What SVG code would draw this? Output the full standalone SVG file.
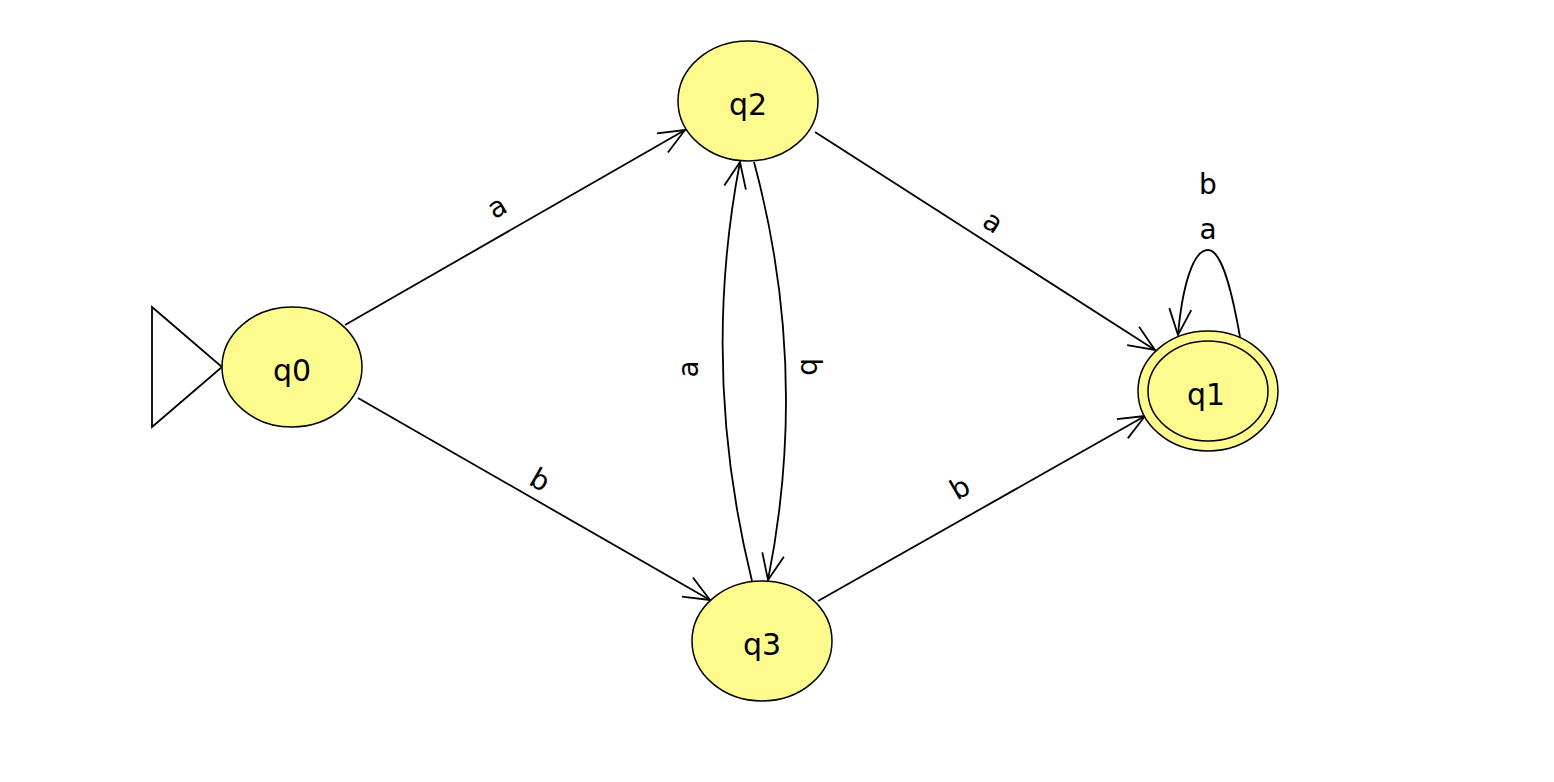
<svg xmlns="http://www.w3.org/2000/svg" width="1554" height="782" viewBox="0 0 1554 782">
<style>
.n{fill:#fdfb8e;stroke:#000;stroke-width:1.5}
.t{font-family:"DejaVu Sans",sans-serif;font-size:30px;text-anchor:middle;dominant-baseline:central}
.l{font-family:"DejaVu Sans",sans-serif;font-size:28px;text-anchor:middle;dominant-baseline:central}
.e{fill:none;stroke:#000;stroke-width:1.8}
</style>
<defs>
<marker id="ar" viewBox="0 0 30 30" refX="28" refY="15" markerWidth="30" markerHeight="30" markerUnits="userSpaceOnUse" orient="auto">
<path d="M2,4 L28,15 L2,26" fill="none" stroke="#000" stroke-width="1.8"/>
</marker>
</defs>
<rect width="1554" height="782" fill="#fff"/>
<g id="edges">
<path class="e" d="M345,325 L685,130" marker-end="url(#ar)"/>
<path class="e" d="M358,398 L710,600" marker-end="url(#ar)"/>
<path class="e" d="M815,132 L1155,350" marker-end="url(#ar)"/>
<path class="e" d="M818,601 L1145,416" marker-end="url(#ar)"/>
<path class="e" d="M754,162 Q810,370 768,580" marker-end="url(#ar)"/>
<path class="e" d="M752,581 Q700,370 740,162" marker-end="url(#ar)"/>
<path class="e" d="M1240,337 C1230,280 1220,250 1208,250 C1192,250 1182,290 1178,335" marker-end="url(#ar)"/>
<text class="l" transform="translate(497,207) rotate(-30)">a</text>
<text class="l" transform="translate(540,480) rotate(30)">b</text>
<text class="l" transform="translate(993,222) rotate(33)">a</text>
<text class="l" transform="translate(960,488) rotate(-30)">b</text>
<text class="l" transform="translate(688,369) rotate(-90)">a</text>
<text class="l" transform="translate(810,367) rotate(90)">b</text>
<text class="l" x="1208" y="184">b</text>
<text class="l" x="1208" y="229">a</text>
</g>
<g id="q0">
<polygon points="152,307 222,367 152,427" fill="#fff" stroke="#000" stroke-width="1.8"/>
<ellipse class="n" cx="292" cy="367" rx="70" ry="60"/><text class="t" x="292" y="370">q0</text></g>
<g id="q2"><ellipse class="n" cx="748" cy="101" rx="70" ry="60"/><text class="t" x="748" y="104">q2</text></g>
<g id="q3"><ellipse class="n" cx="762" cy="641" rx="70" ry="60"/><text class="t" x="762" y="644">q3</text></g>
<g id="q1"><ellipse class="n" cx="1208" cy="391" rx="70" ry="60"/><ellipse class="n" cx="1208" cy="391" rx="60" ry="50"/><text class="t" x="1206" y="394">q1</text></g>
</svg>
